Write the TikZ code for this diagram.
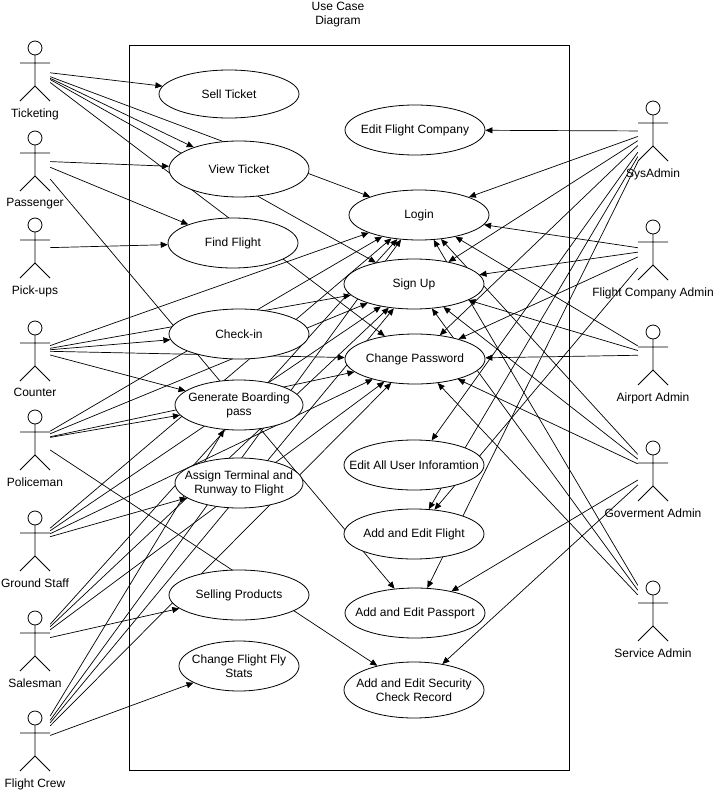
\documentclass[tikz,border=0pt]{standalone}
\usepackage{fontspec}
\setmainfont{Liberation Sans}
\usetikzlibrary{shapes.geometric,arrows.meta}
\pgfdeclarelayer{bg}
\pgfsetlayers{bg,main}
\newcommand{\actorfig}[4]{% name, x, ytop, label
  \node[actbox,label={[lab,label distance=6pt]below:#4}] (#1) at (#2,#3+30) {};
  \draw[line width=0.8pt] (#2,#3+7) circle (7);
  \draw[line width=0.8pt] (#2,#3+14) -- (#2,#3+45) (#2-15,#3+22) -- (#2+15,#3+22)
    (#2-15,#3+60) -- (#2,#3+45) -- (#2+15,#3+60);
}
\begin{document}
\begin{tikzpicture}[x=1pt,y=-1pt,font=\fontsize{12}{14}\selectfont,
  uc/.style={ellipse,draw,fill=white,line width=0.8pt,inner sep=0pt},
  actbox/.style={minimum width=30pt,minimum height=60pt,inner sep=0pt},
  lab/.style={align=center,font=\fontsize{12}{14}\selectfont,inner sep=1pt},
  a/.style={line width=0.7pt,-{Triangle[length=7pt,width=6pt]}}]
\useasboundingbox (0,0) rectangle (715,792);
\draw[line width=0.8pt] (129,45) rectangle (569,770);
\node[lab] (title) at (338,15) {Use Case\\Diagram};
% use cases
\node[uc,minimum width=140,minimum height=48,label={[lab]center:Sell Ticket}] (sell) at (229,94) {};
\node[uc,minimum width=140,minimum height=56,label={[lab]center:View Ticket}] (view) at (239,169) {};
\node[uc,minimum width=130,minimum height=50,label={[lab]center:Find Flight}] (find) at (233,243) {};
\node[uc,minimum width=140,minimum height=50,label={[lab]center:Check-in}] (check) at (239,334) {};
\node[uc,minimum width=128,minimum height=50,label={[lab]center:Generate Boarding\\pass}] (gen) at (239,405) {};
\node[uc,minimum width=128,minimum height=50,label={[lab]center:Assign Terminal and\\Runway to Flight}] (assign) at (239,483) {};
\node[uc,minimum width=140,minimum height=50,label={[lab]center:Selling Products}] (selp) at (239,595) {};
\node[uc,minimum width=120,minimum height=50,label={[lab]center:Change Flight Fly\\Stats}] (fly) at (239,666) {};
\node[uc,minimum width=140,minimum height=50,label={[lab]center:Edit Flight Company}] (efc) at (415,130) {};
\node[uc,minimum width=140,minimum height=50,label={[lab]center:Login}] (login) at (419,215) {};
\node[uc,minimum width=140,minimum height=50,label={[lab]center:Sign Up}] (sign) at (414,284) {};
\node[uc,minimum width=140,minimum height=50,label={[lab]center:Change Password}] (cpw) at (415,359) {};
\node[uc,minimum width=140,minimum height=50,label={[lab]center:Edit All User Inforamtion}] (eau) at (414,465) {};
\node[uc,minimum width=140,minimum height=50,label={[lab]center:Add and Edit Flight}] (aef) at (414,534) {};
\node[uc,minimum width=140,minimum height=50,label={[lab]center:Add and Edit Passport}] (aep) at (415,613) {};
\node[uc,minimum width=140,minimum height=56,label={[lab]center:Add and Edit Security\\Check Record}] (sec) at (414,690) {};
% actors
\actorfig{tick}{35}{41}{Ticketing}
\actorfig{pass}{35}{131}{Passenger}
\actorfig{pick}{35}{218}{Pick-ups}
\actorfig{count}{35}{321}{Counter}
\actorfig{pol}{35}{410}{Policeman}
\actorfig{gs}{35}{511}{Ground Staff}
\actorfig{sales}{35}{611}{Salesman}
\actorfig{crew}{35}{711}{Flight Crew}
\actorfig{sys}{653}{101}{SysAdmin}
\actorfig{fca}{653}{220}{Flight Company Admin}
\actorfig{apa}{653}{325}{Airport Admin}
\actorfig{gov}{653}{441}{Goverment Admin}
\actorfig{srv}{653}{581}{Service Admin}
\begin{pgfonlayer}{bg}
\foreach \s/\t in {tick/sell,tick/view,tick/login,tick/sign,tick/cpw,
  pass/view,pass/find,pass/aep,pick/find,
  count/login,count/sign,count/check,count/cpw,count/gen,
  pol/login,pol/sign,pol/cpw,pol/gen,pol/sec,
  gs/assign,gs/login,gs/sign,gs/cpw,
  sales/selp,sales/login,sales/sign,sales/cpw,
  crew/fly,crew/login,crew/sign,crew/cpw,crew/gen,
  sys/efc,sys/login,sys/sign,sys/cpw,sys/eau,sys/aef,sys/aep,
  fca/login,fca/sign,fca/cpw,fca/aef,
  apa/login,apa/sign,apa/cpw,
  gov/login,gov/sign,gov/cpw,gov/aep,gov/sec,
  srv/login,srv/sign,srv/cpw}
  \draw[a] (\s) -- (\t);
\end{pgfonlayer}
\end{tikzpicture}
\end{document}
